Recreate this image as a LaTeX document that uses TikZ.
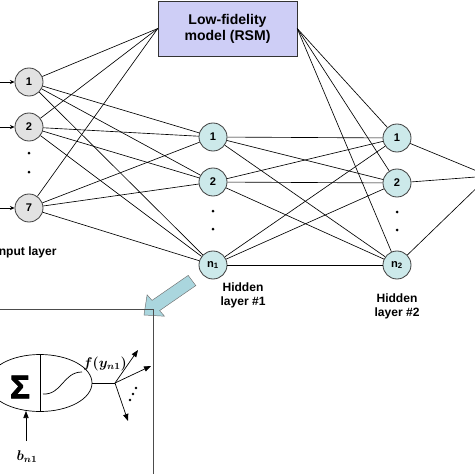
\documentclass[tikz,border=0pt]{standalone}
\usepackage{fontspec}
\setmainfont{Liberation Sans}
\newfontfamily\heavysans[FakeBold=2.5]{Liberation Sans Bold}
\usepackage{amsmath}
\usetikzlibrary{arrows.meta,shapes.geometric}
\definecolor{rsmfill}{RGB}{206,206,246}
\definecolor{infill}{RGB}{226,226,226}
\definecolor{hidfill}{RGB}{204,233,234}
\definecolor{bigarrow}{RGB}{170,214,222}

\begin{document}
\begin{tikzpicture}[x=0.03cm,y=-0.03cm,
	neuron/.style={draw=black!75,line width=0.7pt,circle,minimum size=0.84cm,inner sep=0pt,font=\fontsize{9.5}{10}\selectfont\bfseries},
	innode/.style={neuron,fill=infill},
	hidnode/.style={neuron,fill=hidfill},
	edge/.style={line width=0.55pt},
	lbl/.style={align=center,font=\fontsize{10.3}{12}\selectfont\bfseries},
	outarrow/.style={line width=0.6pt,-{Triangle[length=6pt,width=4.5pt]}}]
	\useasboundingbox (0,0) rectangle (474,474);

	% model box
	\node[draw=black!80,fill=rsmfill,minimum width=4.17cm,minimum height=1.65cm,align=center,
		font=\fontsize{12}{13.5}\selectfont\bfseries](rsm)at(227.5,28.5) {Low-fidelity\\model (RSM)};

	% input layer
	\node[innode](in1)at(29,82) {1};
	\node[innode](in2)at(29,127) {2};
	\node[innode](in7)at(29,208) {7};

	% hidden layers
	\node[hidnode](ha1)at(213,137) {1};
	\node[hidnode](ha2)at(213,182) {2};
	\node[hidnode](han)at(213,265) {n$_\mathbf{1}$};
	\node[hidnode](hb1)at(397,138) {1};
	\node[hidnode](hb2)at(397,183) {2};
	\node[hidnode](hbn)at(397,265) {n$_\mathbf{2}$};
	\coordinate (out) at (489,176);

	\foreach \x/\y in {29/153,29/172,213/211,213/229,397/212,397/230}{
		\fill (\x,\y) circle (1.5);
	}

	\node[lbl](inlab)at(26,252) {Input layer};
	\node[lbl](halab)at(243,295.5) {Hidden\\layer \#1};
	\node[lbl](hblab)at(397,306) {Hidden\\layer \#2};

	% connections
	\foreach \i in {1,2,7}{
		\draw[edge,-{Stealth[length=4pt,width=3.5pt]}] (-6,0 |- in\i) -- (in\i);
		\draw[edge] (in\i) -- (rsm.west);
		\foreach \j in {1,2,n}{
			\draw[edge] (in\i) -- (ha\j);
		}
	}
	\foreach \i in {1,2,n}{
		\foreach \j in {1,2,n}{
			\draw[edge] (ha\i) -- (hb\j);
		}
		\draw[edge] (rsm.east) -- (hb\i);
		\draw[edge] (hb\i) -- (out);
	}

	% zoom arrow
	\filldraw[fill=bigarrow,draw=black!55,line width=0.4pt]
		(195.8,285.6) -- (159.6,310.6) -- (164.5,316.2) -- (144,315)
		-- (147.1,294.8) -- (152,300.4) -- (188.2,275.4) -- cycle;

	% single neuron panel
	\draw[draw=black!70,line width=0.6pt] (-10,309) -| (153,480);
	\node[draw,ellipse,line width=0.6pt,minimum width=3.12cm,minimum height=1.71cm,inner sep=0pt](cell)at(40,383) {};
	\draw[line width=0.6pt] (cell.north) -- (cell.south);
	\node[font=\fontsize{28}{28}\heavysans](sum)at(20,387) {Σ};
	\draw[line width=0.6pt] (43,394) .. controls (62,395) and (63,372) .. (82,372);

	\coordinate (fork) at (115,383);
	\coordinate (o1) at (138,350);
	\coordinate (o2) at (151,366);
	\coordinate (o3) at (128,421);
	\draw[line width=0.6pt] (cell.east) -- (fork);
	\foreach \k in {1,2,3}{
		\draw[outarrow] (fork) -- (o\k);
	}
	\foreach \x/\y in {136/388,133/394,130/400}{
		\fill (\x,\y) circle (1.3);
	}
	\node[font=\fontsize{12}{13}\selectfont](fy)at(105,364) {$\boldsymbol{f(y_{n1})}$};

	\coordinate (bias) at (26,441);
	\draw[outarrow] (bias) -- (26,411);
	\node[font=\fontsize{12}{13}\selectfont](blab)at(27,457) {$\boldsymbol{b_{n1}}$};
\end{tikzpicture}
\end{document}
